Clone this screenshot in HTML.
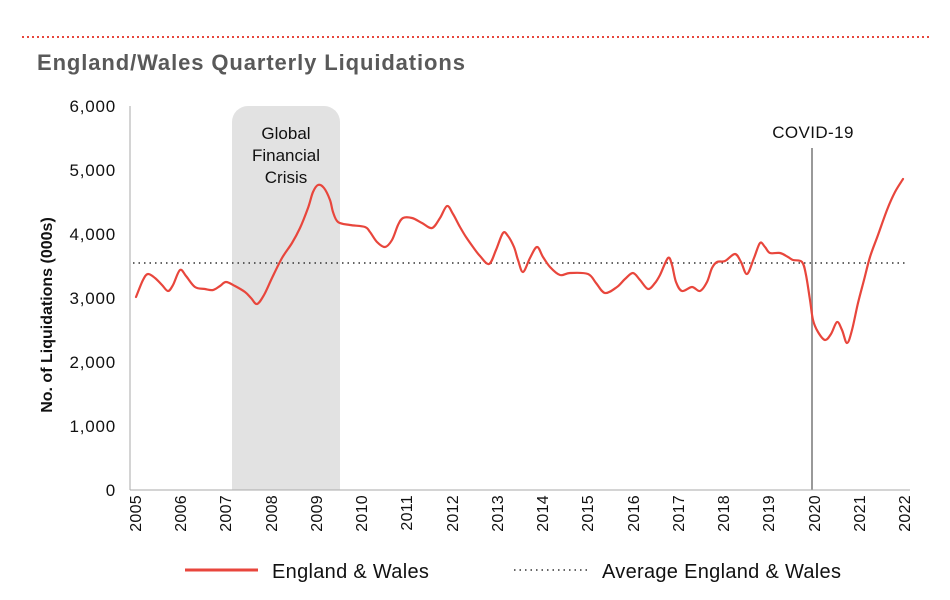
<!DOCTYPE html>
<html><head><meta charset="utf-8"><style>body{margin:0;background:#fff}svg{display:block;font-family:"Liberation Sans",Arial,sans-serif}</style></head><body>
<svg width="950" height="600" viewBox="0 0 950 600" xmlns="http://www.w3.org/2000/svg">
<line x1="22" y1="37" x2="930" y2="37" stroke="#e8463c" stroke-width="2" stroke-dasharray="2,3"/>
<text x="37" y="70" font-size="22" font-weight="bold" fill="#595959" letter-spacing="0.9">England/Wales Quarterly Liquidations</text>
<path d="M232,490 V122 a16,16 0 0 1 16,-16 H324 a16,16 0 0 1 16,16 V490 Z" fill="#e2e2e2"/>
<text font-size="17" fill="#111" text-anchor="middle"><tspan x="286" y="139">Global</tspan><tspan x="286" y="161">Financial</tspan><tspan x="286" y="183">Crisis</tspan></text>
<line x1="812" y1="148" x2="812" y2="490" stroke="#999" stroke-width="2"/>
<text x="813" y="138" font-size="17" fill="#111" text-anchor="middle" letter-spacing="0.4">COVID-19</text>
<line x1="130" y1="106" x2="130" y2="490" stroke="#aaa" stroke-width="1"/>
<line x1="130" y1="490" x2="910" y2="490" stroke="#aaa" stroke-width="1"/>
<g font-size="17" fill="#111" text-anchor="end" letter-spacing="0.8">
<text x="116" y="112">6,000</text><text x="116" y="176">5,000</text><text x="116" y="240">4,000</text><text x="116" y="304">3,000</text><text x="116" y="368">2,000</text><text x="116" y="432">1,000</text><text x="116" y="496">0</text>
</g>
<text transform="translate(52,315) rotate(-90)" font-size="16" font-weight="bold" fill="#111" text-anchor="middle">No. of Liquidations (000s)</text>
<g font-size="16" fill="#111" text-anchor="end" letter-spacing="0.3">
<text transform="translate(141,495) rotate(-90)">2005</text><text transform="translate(186,495) rotate(-90)">2006</text><text transform="translate(231,495) rotate(-90)">2007</text><text transform="translate(277,495) rotate(-90)">2008</text><text transform="translate(322,495) rotate(-90)">2009</text><text transform="translate(367,495) rotate(-90)">2010</text><text transform="translate(412,495) rotate(-90)">2011</text><text transform="translate(458,495) rotate(-90)">2012</text><text transform="translate(503,495) rotate(-90)">2013</text><text transform="translate(548,495) rotate(-90)">2014</text><text transform="translate(593,495) rotate(-90)">2015</text><text transform="translate(639,495) rotate(-90)">2016</text><text transform="translate(684,495) rotate(-90)">2017</text><text transform="translate(729,495) rotate(-90)">2018</text><text transform="translate(774,495) rotate(-90)">2019</text><text transform="translate(820,495) rotate(-90)">2020</text><text transform="translate(865,495) rotate(-90)">2021</text><text transform="translate(910,495) rotate(-90)">2022</text>
</g>
<line x1="133" y1="263" x2="905" y2="263" stroke="#333" stroke-width="1.5" stroke-dasharray="1.5,4"/>
<path id="ser" fill="none" stroke="#e8463c" stroke-width="2.2" stroke-linejoin="round" stroke-linecap="round" d=""/>
<line x1="185" y1="570" x2="258" y2="570" stroke="#e8463c" stroke-width="3"/>
<text x="272" y="578" font-size="20" fill="#111" letter-spacing="0.3">England &amp; Wales</text>
<line x1="514" y1="570" x2="590" y2="570" stroke="#333" stroke-width="1.5" stroke-dasharray="1.5,4"/>
<text x="602" y="578" font-size="20" fill="#111" letter-spacing="0.3">Average England &amp; Wales</text>
</svg>
<script>
var p=[136,297,143,280,148,274,155,278,162,285,168,291,173,285,180,270,186,276,195,287,205,289,213,290,220,286,226,282,235,286,245,292,251,298,257,304,264,295,272,278,282,258,292,243,300,228,308,208,313,192,318,185,324,188,330,200,333,212,338,222,350,225,365,227,370,232,377,242,385,247,392,240,398,225,403,218,412,218,422,223,432,228,440,218,447,206,453,214,460,227,466,237,473,247,480,256,489,264,496,250,503,233,508,236,514,247,518,260,523,272,530,258,537,247,543,257,550,267,560,275,570,273,588,274,596,283,605,293,617,287,625,279,633,273,640,280,648,289,655,283,660,275,668,258,672,265,676,282,682,291,692,287,700,291,707,282,712,268,717,262,725,261,735,254,741,262,747,274,754,258,760,243,765,247,770,253,780,253,788,257,793,260,802,262,806,275,810,300,813,320,818,332,825,340,831,334,837,322,842,330,847,343,852,330,858,303,864,280,870,257,878,235,887,210,895,192,903,179];
var n=p.length/2,P=[];for(var i=0;i<n;i++)P.push([p[2*i],p[2*i+1]]);
var d="M"+P[0][0]+","+P[0][1];
for(var i=0;i<n-1;i++){var a=P[Math.max(i-1,0)],b=P[i],c=P[i+1],e=P[Math.min(i+2,n-1)];
d+=" C"+(b[0]+(c[0]-a[0])/6).toFixed(1)+","+(b[1]+(c[1]-a[1])/6).toFixed(1)+" "+(c[0]-(e[0]-b[0])/6).toFixed(1)+","+(c[1]-(e[1]-b[1])/6).toFixed(1)+" "+c[0]+","+c[1];}
document.getElementById("ser").setAttribute("d",d);
</script>
</body></html>
